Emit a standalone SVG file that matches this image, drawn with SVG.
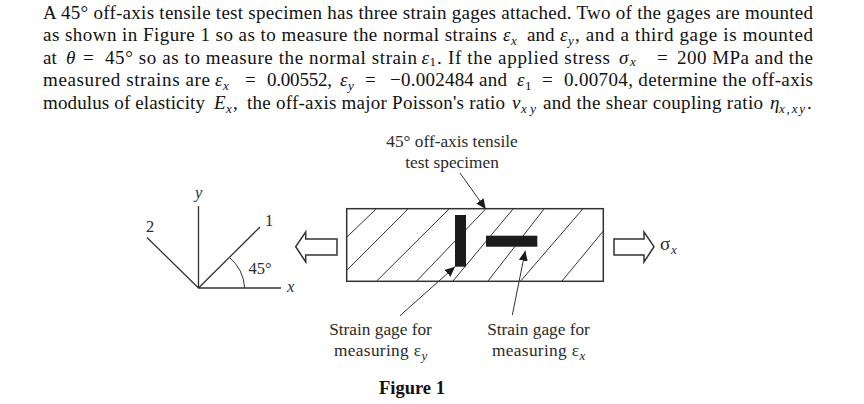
<svg xmlns="http://www.w3.org/2000/svg" width="864" height="404" viewBox="0 0 864 404">
<style>
text{font-family:"Liberation Serif","Times New Roman",serif;fill:#111}
.b{font-size:19px}
.m{font-size:19px;font-style:italic}
.s{font-size:13px;font-style:italic}
.d{font-size:13px}
.l{font-size:17.300px;fill:#2a2a2a;text-anchor:middle}
.k{font-size:17.300px;fill:#2a2a2a}
.i{font-size:16.500px;font-style:italic;fill:#2a2a2a}
.n{font-size:16.500px;fill:#2a2a2a}
.t{stroke:#333;stroke-width:1;fill:none}
.a{stroke:#333;stroke-width:1.300;fill:none}
.h{stroke:#333;stroke-width:1;fill:none}
.p{stroke:#333;stroke-width:1.500;fill:#fff}
</style>
<defs><marker id="ah" markerUnits="userSpaceOnUse" markerWidth="11" markerHeight="10" refX="10" refY="4.500" orient="auto"><path d="M0 0L10 4.500L0 9z" fill="#1c1c1c"/></marker></defs>
<g id="problem-text">
<text class="b" x="43" y="19" textLength="770">A 45° off-axis tensile test specimen has three strain gages attached. Two of the gages are mounted</text>
<text class="b" x="43" y="41" textLength="454">as shown in Figure 1 so as to measure the normal strains</text>
<text class="m" x="503" y="41">ε</text><text class="s" x="511" y="45">x</text>
<text class="b" x="527" y="41">and</text>
<text class="m" x="560" y="41">ε</text><text class="s" x="568" y="45">y</text>
<text class="b" x="575" y="41" textLength="238">, and a third gage is mounted</text>
<text class="b" x="43" y="64">at</text>
<text class="m" x="66" y="64">θ</text>
<text class="b" x="83" y="64">=</text>
<text class="b" x="105" y="64" textLength="312">45° so as to measure the normal strain</text>
<text class="m" x="421.500" y="64">ε</text><text class="d" x="429.500" y="66">1</text>
<text class="b" x="437" y="64" textLength="173">. If the applied stress</text>
<text class="m" x="619" y="64">σ</text><text class="s" x="630" y="66">x</text>
<text class="b" x="657" y="64">=</text>
<text class="b" x="677" y="64" textLength="136">200 MPa and the</text>
<text class="b" x="43" y="86" textLength="167">measured strains are</text>
<text class="m" x="215" y="86">ε</text><text class="s" x="223" y="90">x</text>
<text class="b" x="245" y="86">=</text>
<text class="b" x="267" y="86" textLength="65">0.00552,</text>
<text class="m" x="340" y="86">ε</text><text class="s" x="348" y="90">y</text>
<text class="b" x="365" y="86">=</text>
<text class="b" x="390" y="86" textLength="117">−0.002484 and</text>
<text class="m" x="517" y="86">ε</text><text class="d" x="525" y="90">1</text>
<text class="b" x="542" y="86">=</text>
<text class="b" x="564" y="86" textLength="249">0.00704, determine the off-axis</text>
<text class="b" x="43" y="109" textLength="162">modulus of elasticity</text>
<text class="m" x="214" y="109">E</text><text class="s" x="226" y="113">x</text>
<text class="b" x="233" y="109">,</text>
<text class="b" x="247" y="109" textLength="258">the off-axis major Poisson's ratio</text>
<text class="m" x="512" y="109">ν</text><text class="s" x="521" y="113" textLength="15">xy</text>
<text class="b" x="543" y="109" textLength="220">and the shear coupling ratio</text>
<text class="m" x="770" y="109">η</text><text class="s" x="779" y="113" textLength="26">x,xy</text>
<text class="b" x="807" y="109">.</text>
</g>
<g id="axes">
<path class="a" d="M198.500 206V288H281M198.500 288L260 227M198.500 288L147 237.500"/>
<path class="t" d="M229.300 257.300A44 44 0 0 1 244.700 288"/>
<text class="i" x="195" y="198">y</text>
<text class="n" x="265" y="226">1</text>
<text class="n" x="146" y="232">2</text>
<text class="n" x="248.500" y="274">45°</text>
<text class="i" x="287" y="292">x</text>
</g>
<g id="load-left"><path class="p" d="M295.700 246.700L305.700 232V239H337V255H305.700V262Z"/></g>
<g id="specimen">
<rect x="346.700" y="208.700" width="256.600" height="72.600" fill="#fff" stroke="#333" stroke-width="1.500"/>
<path class="h" d="M376 209L347 237M408 209L347 270M449 209L376.700 281M485.700 209L416.700 281M513 209L453 281M544 209L488 281M582.700 209L520.700 281M603.300 231L562 281"/>
</g>
<g id="gage-y"><rect x="455" y="215" width="11" height="51.700" fill="#1c1c1c"/></g>
<g id="gage-x"><rect x="486" y="235.700" width="51.300" height="11" fill="#1c1c1c"/></g>
<g id="load-right"><path class="p" d="M614 239H644V232L654 246.700L644 262V255H614Z"/>
<text class="n" x="660" y="250" style="font-size:19px">σ</text><text class="i" x="671" y="254" style="font-size:13px">x</text></g>
<g id="connectors">
<path class="t" marker-end="url(#ah)" d="M460 173L485.700 209"/>
<path class="t" marker-end="url(#ah)" d="M400 315.700L455 266.700"/>
<path class="t" marker-end="url(#ah)" d="M512.300 315L525.300 250.700"/>
</g>
<g id="label-specimen">
<text class="l" x="452" y="147">45° off-axis tensile</text>
<text class="l" x="452" y="168">test specimen</text>
</g>
<g id="label-y">
<text class="l" x="380.500" y="335">Strain gage for</text>
<text class="k" x="334" y="356" textLength="87">measuring ε</text><text class="i" x="421.500" y="360" style="font-size:13px">y</text>
</g>
<g id="label-x">
<text class="l" x="538.500" y="335">Strain gage for</text>
<text class="k" x="492" y="356" textLength="87">measuring ε</text><text class="i" x="579.500" y="360" style="font-size:13px">x</text>
</g>
<text id="caption" x="412" y="394" text-anchor="middle" font-size="18.500" font-weight="bold">Figure 1</text>
</svg>
